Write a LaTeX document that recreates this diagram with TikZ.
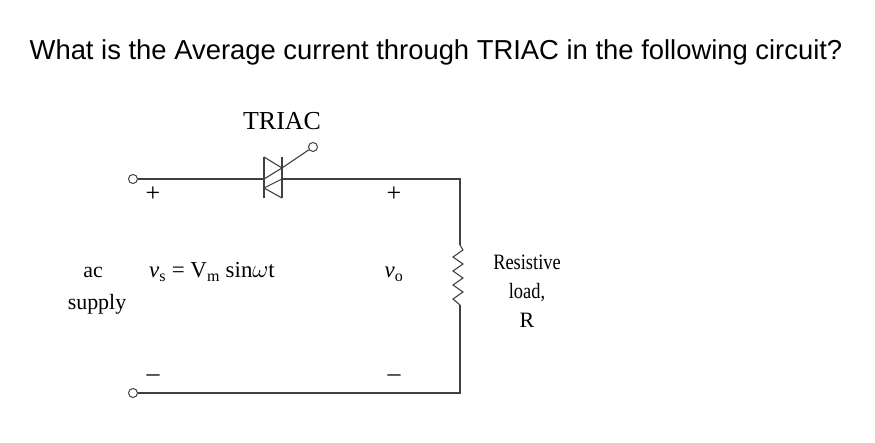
\documentclass[tikz,border=0pt]{standalone}
\usepackage{fontspec}
\usepackage{graphicx}
\setmainfont{Liberation Serif}
\newfontfamily\titlefont{Liberation Sans}
\begin{document}
\begin{tikzpicture}[x=1bp,y=-1bp,
  wire/.style={line width=1.1pt,black!75},
  term/.style={circle,draw=black!75,line width=1pt,fill=white,inner sep=0pt,minimum size=9bp},
  lbl/.style={font=\fontsize{22}{24}\selectfont,inner sep=0pt},
  sgn/.style={font=\fontsize{26}{28}\selectfont,inner sep=0pt}]
\useasboundingbox (0,0) rectangle (875,443);
\node[font=\titlefont\fontsize{27.5}{30}\selectfont] (title) at (436,52) {What is the Average current through TRIAC in the following circuit?};
% terminals and corners
\coordinate (tr) at (460,179);
\coordinate (br) at (460,393);
\coordinate (ra) at (460,245);
\coordinate (rb) at (460,305);
\coordinate (ta) at (264,179);
\coordinate (tb) at (282,179);
\node[term] (t1) at (133,179) {};
\node[term] (t2) at (133,393) {};
\node[term] (g) at (313,147) {};
\draw[wire] (t1) -- (ta);
\draw[wire] (tb) -- (tr) -- (ra);
\draw[wire] (ra) -- (463,250) -- (453,257) -- (463,264) -- (453,271) -- (463,278) -- (453,285) -- (463,292) -- (453,299) -- (rb);
\draw[wire] (rb) -- (br) -- (t2);
% triac
\draw[wire] (264,157) -- (264,198);
\draw[wire] (282,157) -- (282,198);
\draw[wire] (264,157) -- (282,168) -- (264,179);
\draw[wire] (282,179) -- (264,188) -- (282,198);
\draw[wire] (282,168) -- (g);
% labels
\node[lbl,font=\fontsize{26}{28}\selectfont] (triac) at (282,121) {TRIAC};
\node[sgn] (p1) at (153,194) {+};
\node[sgn] (p2) at (394,194) {+};
\node[sgn] (m1) at (153,378) {\textendash};
\node[sgn] (m2) at (394,378) {\textendash};
\node[lbl] (ac) at (93,272) {ac};
\node[lbl] (sup) at (97,304) {supply};
\node[lbl,font=\fontsize{23}{25}\selectfont] (vs) at (212,272) {$\mathit{v}_{\mathrm s}$ = V$_{\mathrm m}$ sin$\omega$t};
\node[lbl,font=\fontsize{23}{25}\selectfont] (vo) at (394,274) {$\mathit{v}_{\mathrm o}$};
\node[lbl,align=center,font=\fontsize{22}{29}\selectfont] (res) at (527,291) {\scalebox{0.84}[1]{Resistive}\\\scalebox{0.84}[1]{load,}\\R};
\end{tikzpicture}
\end{document}
